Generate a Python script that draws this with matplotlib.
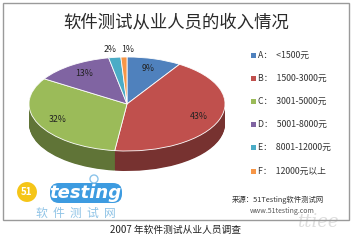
import numpy as np
import matplotlib
matplotlib.use("Agg")
import matplotlib.pyplot as plt
from matplotlib.patches import Rectangle, Circle, FancyBboxPatch
from matplotlib.colors import to_rgb

plt.rcParams['font.family'] = ['Noto Sans CJK SC', 'DejaVu Sans']

# data
shares = [9, 43, 32, 13, 2, 1]
legend_labels = ["A：  <1500元", "B：  1500-3000元", "C：  3001-5000元",
                 "D：  5001-8000元", "E：  8001-12000元", "F：  12000元以上"]
colors = ["#4F81BD", "#C0504D", "#9BBB59", "#8064A2", "#4BACC6", "#F79646"]
title = "软件测试从业人员的收入情况"
caption = "2007 年软件测试从业人员调查"

W, H = 352, 240
fig = plt.figure(figsize=(W / 100, H / 100), dpi=100)
fig.patch.set_facecolor("white")

base = fig.add_axes([0, 0, 1, 1])
base.set_xlim(0, W)
base.set_ylim(H, 0)
base.axis("off")

# frame
base.add_patch(Rectangle((3, 2.5), 345.5, 217.5, fill=False, ec="#9a9a9a", lw=1.0))
base.text(176, 22, title, ha="center", va="center", fontsize=12.5,
          color="#2a2a2a", fontweight="medium")

# pie (3D look by stacking darker layers)
px0, px1, py_top, py_bot = 29, 225, 57, 170
semi_b = 47.0
depth_px = 20.0
pax = fig.add_axes([px0 / W, (H - py_bot) / H, (px1 - px0) / W, (py_bot - py_top) / H])
depth = depth_px / semi_b
side = [tuple(c * 0.62 for c in to_rgb(col)) for col in colors]
for d in np.linspace(depth, 0.01, 30):
    pax.pie(shares, colors=side, startangle=90, counterclock=False,
            center=(0, -d), wedgeprops=dict(linewidth=0))
wedges, _, autotexts = pax.pie(shares, colors=colors, startangle=90, counterclock=False,
                               autopct="%d%%", pctdistance=0.78,
                               wedgeprops=dict(linewidth=0.6, edgecolor="white"),
                               textprops=dict(fontsize=6.3, color="#222222"))
# push the two tiny slices' labels outside and spread them apart
nudge = {4: -0.03, 5: 0.04}
for i, t in enumerate(autotexts):
    if shares[i] < 5:
        x, y = t.get_position()
        t.set_position((x * 1.5 + nudge[i], y * 1.5))
pax.set_aspect("auto")
pax.set_xlim(-1, 1)
pax.set_ylim(1 - (py_bot - py_top) / semi_b, 1)
pax.axis("off")

# legend
for i, (lab, col) in enumerate(zip(legend_labels, colors)):
    y = 55 + i * 23.2
    base.add_patch(Rectangle((250.5, y - 2.5), 5, 5, fc=col, ec="none"))
    base.text(258, y, lab, ha="left", va="center", fontsize=6.3, color="#333333")

# logo
base.add_patch(FancyBboxPatch((50, 183), 72, 20, boxstyle="round,pad=0,rounding_size=9",
                              fc="#3d9be0", ec="none"))
base.add_patch(Circle((27, 192), 11, fc="#f5c518", ec="white", lw=1.5))
base.text(27, 192, "51", ha="center", va="center", fontsize=7, color="white", fontweight="bold")
base.text(85, 192.5, "testing", ha="center", va="center", fontsize=13, color="white",
          fontweight="bold", style="italic", family="DejaVu Sans")
base.add_patch(Circle((94, 179), 4, fc="white", ec="#8cc4ea", lw=1.0))
base.text(76, 213, "软  件  测  试  网", ha="center", va="center", fontsize=8.5, color="#8fc3e6")

# source
base.text(232, 200, "来源：51Testing软件测试网", ha="left", va="center", fontsize=5.3, color="#333333")
base.text(250, 211, "www.51testing.com", ha="left", va="center", fontsize=5.0, color="#555555")
base.text(318, 222, "ttiee", ha="center", va="center", fontsize=13, color="#dedede",
          style="italic", family="DejaVu Serif", zorder=0)

base.text(176, 230, caption, ha="center", va="center", fontsize=7, color="#222222")

fig.savefig("out.png", dpi=100)
